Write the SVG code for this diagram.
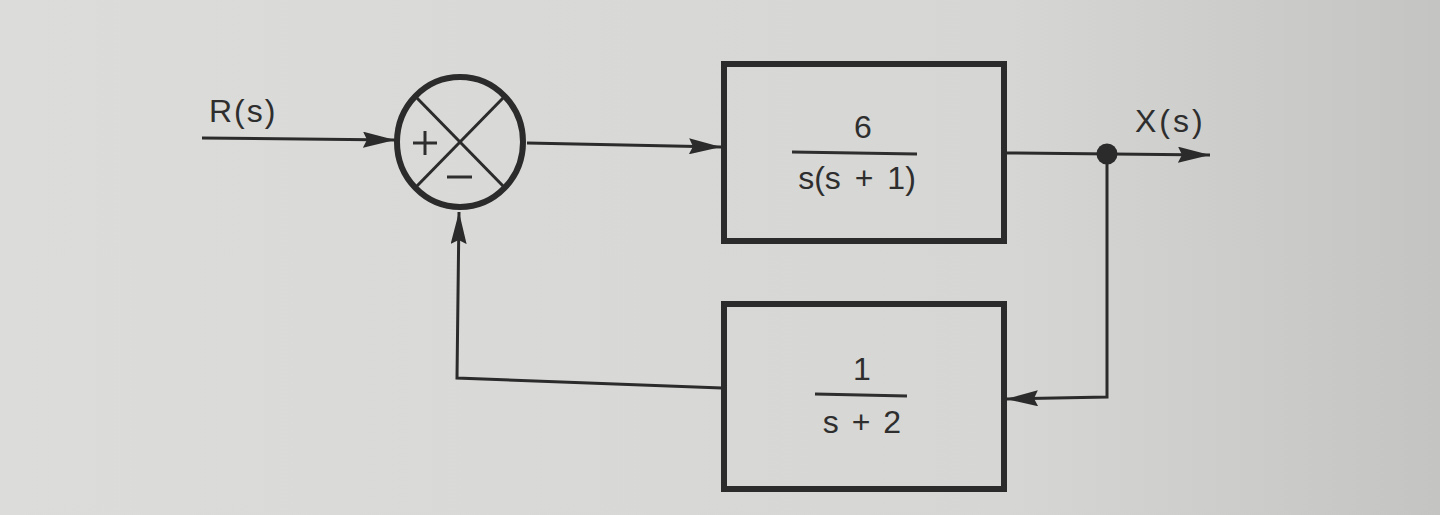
<svg xmlns="http://www.w3.org/2000/svg" width="1440" height="515" viewBox="0 0 1440 515">
<style>
.ln{stroke:#2b2b2b;stroke-width:3;fill:none}
.box{stroke:#2b2b2b;stroke-width:6;fill:none}
.t{font-family:"Liberation Sans",Arial,sans-serif;fill:#2e2e2e;font-size:32px}
.fr{stroke:#2e2e2e;stroke-width:3}
</style>
<defs>
<linearGradient id="bg" x1="0" y1="0" x2="1" y2="0">
<stop offset="0" stop-color="#dcdcda"/>
<stop offset="0.7" stop-color="#d6d6d4"/>
<stop offset="1" stop-color="#c4c4c2"/>
</linearGradient>
<marker id="ar" viewBox="0 0 32 16" refX="32" refY="8" markerWidth="32" markerHeight="16" markerUnits="userSpaceOnUse" orient="auto">
<path d="M0,0 L32,8 L0,16 L4,8 Z" fill="#2b2b2b"/>
</marker>
</defs>
<rect x="0" y="0" width="1440" height="515" fill="url(#bg)"/>
<g id="connectors">
<line class="ln" x1="202" y1="138" x2="395" y2="140" marker-end="url(#ar)"/>
<line class="ln" x1="527" y1="143" x2="721" y2="147" marker-end="url(#ar)"/>
<line class="ln" x1="1006" y1="153" x2="1210" y2="155" marker-end="url(#ar)"/>
<polyline class="ln" points="1107,155 1107,397 1006,399" marker-end="url(#ar)"/>
<polyline class="ln" points="722,388 457,378 459,212" marker-end="url(#ar)"/>
<circle cx="1107" cy="154" r="10.5" fill="#2b2b2b"/>
</g>
<g id="sum">
<ellipse cx="460" cy="142" rx="63" ry="65" fill="none" stroke="#2b2b2b" stroke-width="6"/>
<line class="ln" x1="415" y1="96" x2="505" y2="188"/>
<line class="ln" x1="505" y1="96" x2="415" y2="188"/>
<line class="fr" x1="413" y1="143" x2="437" y2="143"/>
<line class="fr" x1="425" y1="131" x2="425" y2="155"/>
<line class="fr" x1="447" y1="177" x2="472" y2="177"/>
</g>
<g id="plant">
<rect class="box" x="724" y="64" width="280" height="177"/>
<text class="t" x="863" y="138" text-anchor="middle">6</text>
<line class="fr" x1="792" y1="152" x2="917" y2="154"/>
<text class="t" x="857" y="189" text-anchor="middle" word-spacing="5">s(s + 1)</text>
</g>
<g id="feedback">
<rect class="box" x="724" y="304" width="280" height="185"/>
<text class="t" x="862" y="380" text-anchor="middle">1</text>
<line class="fr" x1="815" y1="394" x2="907" y2="396"/>
<text class="t" x="862" y="433" text-anchor="middle" word-spacing="4">s + 2</text>
</g>
<g id="labels">
<text class="t" x="209" y="122" letter-spacing="2">R(s)</text>
<text class="t" x="1135" y="132" letter-spacing="3">X(s)</text>
</g>
</svg>
